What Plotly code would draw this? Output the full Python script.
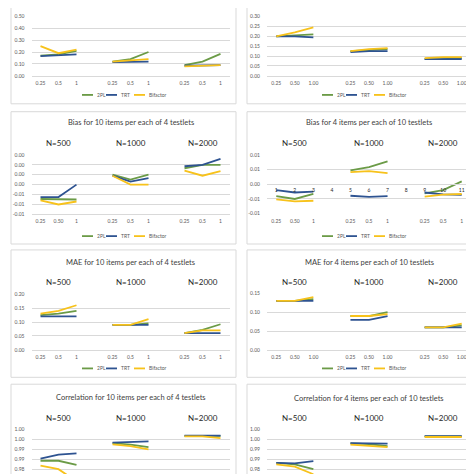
import plotly.graph_objects as go

# ----------------------------------------------------------------------
# Data
# ----------------------------------------------------------------------
series_names = ["2PL", "TRT", "Bifactor"]
series_colors = ["#6B9B47", "#2E5391", "#F7C21B"]
sample_labels = ["N=500", "N=1000", "N=2000"]

# panel A (top left, title cut off)
a_2pl = [0.17, 0.18, 0.21, 0.12, 0.14, 0.20, 0.09, 0.12, 0.185]
a_trt = [0.165, 0.175, 0.18, 0.115, 0.118, 0.12, 0.085, 0.087, 0.09]
a_bif = [0.25, 0.19, 0.22, 0.12, 0.13, 0.14, 0.08, 0.085, 0.09]
a_xlabels = ["0.25", "0.5", "1", "0.25", "0.5", "1", "0.25", "0.5", "1"]
a_yticks = [0.0, 0.1, 0.2, 0.3, 0.4, 0.5]
a_yticktext = ["0.00", "0.10", "0.20", "0.30", "0.40", "0.50"]

# panel B (top right, title cut off)
b_2pl = [0.20, 0.205, 0.21, 0.125, 0.13, 0.135, 0.085, 0.085, 0.09]
b_trt = [0.20, 0.20, 0.195, 0.12, 0.125, 0.125, 0.085, 0.085, 0.085]
b_bif = [0.20, 0.22, 0.245, 0.125, 0.135, 0.14, 0.09, 0.095, 0.095]
b_xlabels = ["0.25", "0.50", "1.00"] * 3
b_yticks = [0.0, 0.05, 0.10, 0.15, 0.20, 0.25, 0.30]
b_yticktext = ["0.00", "0.05", "0.10", "0.15", "0.20", "0.25", "0.30"]

# panel C - Bias, 10 items x 4 testlets
c_2pl = [-0.0029, -0.003, -0.003, 0.002, 0.001, 0.002, 0.0033, 0.004, 0.004]
c_trt = [-0.0025, -0.0025, 0.0, 0.0018, 0.0006, 0.0013, 0.0037, 0.004, 0.0052]
c_bif = [-0.0032, -0.004, -0.0034, 0.0018, 0.0, 0.0, 0.0028, 0.0018, 0.0027]
c_xlabels = ["0.25", "0.50", "1", "0.25", "0.5", "1", "0.25", "0.5", "1"]
c_yticks = [-0.006, -0.004, -0.002, 0.0, 0.002, 0.004, 0.006]
c_yticktext = ["-0.01", "-0.01", "-0.01", "0.00", "0.00", "0.00", "0.00"]

# panel D - Bias, 4 items x 10 testlets
d_2pl = [-0.004, -0.005, -0.0033, 0.0047, 0.0058, 0.0078, -0.0031, -0.002, 0.001]
d_trt = [-0.002, -0.0028, -0.0025, -0.0039, -0.0043, -0.004, -0.0028, -0.0034, -0.0036]
d_bif = [-0.0051, -0.0058, -0.0056, 0.0041, 0.0045, 0.0038, -0.0042, -0.0035, -0.0033]
d_xlabels = ["0.25", "0.50", "1", "0.25", "0.5", "1", "0.25", "0.5", "1"]
d_numbers = ["1", "2", "3", "4", "5", "6", "7", "8", "9", "10", "11"]
d_yticks = [-0.01, -0.005, 0.0, 0.005, 0.01]
d_yticktext = ["-0.01", "-0.01", "0.00", "0.01", "0.01"]

# panel E - MAE, 10 items x 4 testlets
e_2pl = [0.125, 0.13, 0.14, 0.09, 0.09, 0.095, 0.06, 0.072, 0.092]
e_trt = [0.12, 0.12, 0.12, 0.09, 0.09, 0.09, 0.06, 0.06, 0.06]
e_bif = [0.13, 0.14, 0.16, 0.09, 0.09, 0.11, 0.06, 0.07, 0.07]
e_xlabels = ["0.25", "0.5", "1"] * 3
e_yticks = [0.0, 0.05, 0.10, 0.15, 0.20]
e_yticktext = ["0.00", "0.05", "0.10", "0.15", "0.20"]

# panel F - MAE, 4 items x 10 testlets
f_2pl = [0.13, 0.13, 0.135, 0.09, 0.09, 0.10, 0.06, 0.06, 0.065]
f_trt = [0.13, 0.13, 0.13, 0.08, 0.08, 0.09, 0.06, 0.06, 0.06]
f_bif = [0.13, 0.13, 0.14, 0.09, 0.09, 0.095, 0.06, 0.06, 0.07]
f_xlabels = ["0.25", "0.50", "1.00"] * 3
f_yticks = [0.0, 0.05, 0.10, 0.15]
f_yticktext = ["0.00", "0.05", "0.10", "0.15"]

# panel G - Correlation, 10 items x 4 testlets
g_2pl = [0.9892, 0.9892, 0.9871, 0.998, 0.9972, 0.996, 1.0016, 1.0016, 1.0016]
g_trt = [0.9903, 0.9923, 0.9929, 0.9982, 0.9985, 0.9988, 1.0017, 1.0017, 1.0017]
g_bif = [0.9868, 0.985, 0.979, 0.9973, 0.9965, 0.9949, 1.0013, 1.0013, 1.0004]

# panel H - Correlation, 4 items x 10 testlets
h_2pl = [0.9882, 0.9874, 0.985, 0.9978, 0.9975, 0.9965, 1.0013, 1.0013, 1.0013]
h_trt = [0.9882, 0.9879, 0.989, 0.998, 0.9979, 0.9977, 1.0014, 1.0014, 1.0014]
h_bif = [0.9874, 0.9863, 0.9825, 0.9972, 0.9965, 0.996, 1.001, 1.001, 1.001]

corr_yticks = [0.980, 0.985, 0.990, 0.995, 1.000, 1.005]
corr_yticktext = ["0.98", "0.98", "0.99", "0.99", "1.00", "1.00"]

# ----------------------------------------------------------------------
# Layout helpers (pixels of the 474 x 474 picture -> paper coordinates)
# ----------------------------------------------------------------------
SIZE = 474
FONT = "Lato"
GRID = "#D9D9D9"
TICK_COLOR = "#595959"
TITLE_COLOR = "#404040"
TICK_SIZE = 5

LEFT_X = (23.5, 221.5)
RIGHT_X = (259, 463)
LEFT_BOX = (3, 228)
RIGHT_BOX = (239, 470)


def px(x):
    return x / SIZE


def py(y):
    return 1 - y / SIZE


def with_gaps(vals):
    """Put an empty category between the three sample size groups."""
    out = []
    for g in range(3):
        out += list(vals[3 * g:3 * g + 3])
        if g < 2:
            out.append(None)
    return out


positions = list(range(1, 12))
group_centers = [2, 6, 10]

panels = [
    dict(series=(a_2pl, a_trt, a_bif), xlabels=a_xlabels,
         yticks=a_yticks, ytext=a_yticktext, yrange=[0, 0.5],
         xpx=LEFT_X, ypx=(5.3, 65.7), box=LEFT_BOX, rows=(-5, 94),
         title=None, title_y=None, n_y=None, legend_y=85, legend_x=116),
    dict(series=(b_2pl, b_trt, b_bif), xlabels=b_xlabels,
         yticks=b_yticks, ytext=b_yticktext, yrange=[0, 0.3],
         xpx=RIGHT_X, ypx=(5.7, 65.7), box=RIGHT_BOX, rows=(-5, 94),
         title=None, title_y=None, n_y=None, legend_y=85, legend_x=356),
    dict(series=(c_2pl, c_trt, c_bif), xlabels=c_xlabels,
         yticks=c_yticks, ytext=c_yticktext, yrange=[-0.006, 0.006],
         xpx=LEFT_X, ypx=(145.7, 206), box=LEFT_BOX, rows=(102, 236),
         title="Bias for 10 items per each of 4 testlets", title_y=113,
         n_y=134, legend_y=228, legend_x=116),
    dict(series=(d_2pl, d_trt, d_bif), xlabels=d_xlabels,
         yticks=d_yticks, ytext=d_yticktext, yrange=[-0.01, 0.01],
         xpx=RIGHT_X, ypx=(145.7, 205.3), box=RIGHT_BOX, rows=(102, 236),
         title="Bias for 4 items per each of 10 testlets", title_y=113,
         n_y=134, legend_y=228, legend_x=356),
    dict(series=(e_2pl, e_trt, e_bif), xlabels=e_xlabels,
         yticks=e_yticks, ytext=e_yticktext, yrange=[0, 0.2],
         xpx=LEFT_X, ypx=(286.7, 343.3), box=LEFT_BOX, rows=(242, 371),
         title="MAE for 10 items per each of 4 testlets", title_y=255,
         n_y=274, legend_y=362, legend_x=116),
    dict(series=(f_2pl, f_trt, f_bif), xlabels=f_xlabels,
         yticks=f_yticks, ytext=f_yticktext, yrange=[0, 0.15],
         xpx=RIGHT_X, ypx=(286, 343.3), box=RIGHT_BOX, rows=(242, 371),
         title="MAE for 4 items per each of 10 testlets", title_y=255,
         n_y=274, legend_y=362, legend_x=356),
    dict(series=(g_2pl, g_trt, g_bif), xlabels=None,
         yticks=corr_yticks, ytext=corr_yticktext,
         yrange=[1.005 - 50.7 / 10.2 * 0.005, 1.005],
         xpx=LEFT_X, ypx=(423.3, 474), box=LEFT_BOX, rows=(378, 490),
         title="Correlation for 10 items per each of 4 testlets",
         title_y=391, n_y=412.5, legend_y=None, legend_x=None),
    dict(series=(h_2pl, h_trt, h_bif), xlabels=None,
         yticks=corr_yticks, ytext=corr_yticktext,
         yrange=[1.005 - 50.7 / 10.2 * 0.005, 1.005],
         xpx=RIGHT_X, ypx=(423.3, 474), box=RIGHT_BOX, rows=(378, 490),
         title="Correlation for 4 items per each of 10 testlets",
         title_y=392, n_y=412.5, legend_y=None, legend_x=None),
]

fig = go.Figure()
shapes = []
annotations = []
axes = {}

for i, p in enumerate(panels, start=1):
    suffix = "" if i == 1 else str(i)
    xdom = [px(p["xpx"][0]), px(p["xpx"][1])]
    ydom = [max(0, py(p["ypx"][1])), py(p["ypx"][0])]

    # panel frame
    shapes.append(dict(type="rect", xref="paper", yref="paper",
                       x0=px(p["box"][0]), x1=px(p["box"][1]),
                       y0=py(p["rows"][1]), y1=py(p["rows"][0]),
                       line=dict(color=GRID, width=1),
                       fillcolor="white", layer="below"))

    for name, color, vals in zip(series_names, series_colors, p["series"]):
        fig.add_trace(go.Scatter(
            x=positions, y=with_gaps(vals), mode="lines", name=name,
            line=dict(color=color, width=1.8), connectgaps=False,
            showlegend=False, xaxis="x" + suffix, yaxis="y" + suffix,
            hovertemplate=name + ": %{y}<extra></extra>"))

    xlabels = with_gaps(p["xlabels"]) if p["xlabels"] else [""] * 11
    xlabels = [t if t is not None else "" for t in xlabels]
    xaxis = dict(domain=xdom, anchor="y" + suffix, range=[0.5, 11.5],
                 showgrid=False, zeroline=False, tickmode="array",
                 tickvals=positions, ticktext=xlabels,
                 showticklabels=p["xlabels"] is not None,
                 showline=p["xlabels"] is not None, linecolor=GRID,
                 linewidth=0.8, ticks="outside", ticklen=2,
                 tickcolor="rgba(0,0,0,0)",
                 tickfont=dict(size=TICK_SIZE, color=TICK_COLOR, family=FONT))
    yaxis = dict(domain=ydom, anchor="x" + suffix, range=p["yrange"],
                 showgrid=True, gridcolor=GRID, gridwidth=0.8,
                 zeroline=False, showline=False, tickmode="array",
                 tickvals=p["yticks"], ticktext=p["ytext"],
                 ticks="outside", ticklen=5, tickcolor="rgba(0,0,0,0)",
                 tickfont=dict(size=TICK_SIZE, color=TICK_COLOR, family=FONT))

    if i == 4:
        # category numbers drawn on the axis crossing at zero
        y0px, y1px = p["ypx"]
        ymin, ymax = p["yrange"]
        zero_px = y0px + (ymax - 0) / (ymax - ymin) * (y1px - y0px)
        xaxis.update(anchor="free", position=py(zero_px),
                     ticktext=d_numbers, showline=True, ticklen=1,
                     tickfont=dict(size=TICK_SIZE, color="#262626",
                                   family=FONT))
        # loading labels along the bottom edge
        axes["xaxis9"] = dict(
            domain=xdom, overlaying="x4", anchor="free",
            position=py(y1px), side="bottom",
            range=[0.5, 11.5], showgrid=False, zeroline=False,
            showline=False, tickmode="array", tickvals=positions,
            ticktext=xlabels, ticks="outside", ticklen=2,
            tickcolor="rgba(0,0,0,0)",
            tickfont=dict(size=TICK_SIZE, color=TICK_COLOR, family=FONT))

    axes["xaxis" + suffix] = xaxis
    axes["yaxis" + suffix] = yaxis

    xc = px((p["xpx"][0] + p["xpx"][1]) / 2)
    if p["title"]:
        annotations.append(dict(
            text=p["title"], xref="paper", yref="paper", x=xc,
            y=py(p["title_y"]), showarrow=False, xanchor="center",
            yanchor="middle",
            font=dict(size=7.5, color=TITLE_COLOR, family=FONT)))
    if p["n_y"]:
        for label, c in zip(sample_labels, group_centers):
            annotations.append(dict(
                text=label, xref="x" + suffix, yref="paper", x=c,
                y=py(p["n_y"]), showarrow=False, xanchor="center",
                yanchor="middle",
                font=dict(size=8, color="#262626", family=FONT)))

    # small legend under each chart
    if p["legend_y"]:
        offsets = [-42, -18, 10]
        for name, color, off in zip(series_names, series_colors, offsets):
            lx = p["legend_x"] + off
            shapes.append(dict(type="line", xref="paper", yref="paper",
                               x0=px(lx), x1=px(lx + 11),
                               y0=py(p["legend_y"]), y1=py(p["legend_y"]),
                               line=dict(color=color, width=1.8)))
            annotations.append(dict(
                text=name, xref="paper", yref="paper", x=px(lx + 13),
                y=py(p["legend_y"]), showarrow=False, xanchor="left",
                yanchor="middle",
                font=dict(size=TICK_SIZE, color=TICK_COLOR, family=FONT)))

# dummy trace so the extra label axis of panel D is drawn
fig.add_trace(go.Scatter(x=[None], y=[None], xaxis="x9", yaxis="y4",
                         showlegend=False, hoverinfo="skip"))

fig.update_layout(
    width=SIZE, height=SIZE,
    margin=dict(l=0, r=0, t=0, b=0),
    paper_bgcolor="white",
    plot_bgcolor="rgba(0,0,0,0)",
    font=dict(family=FONT, color=TICK_COLOR),
    showlegend=False,
    shapes=shapes,
    annotations=annotations,
    **axes
)

fig.write_html("out.html")
